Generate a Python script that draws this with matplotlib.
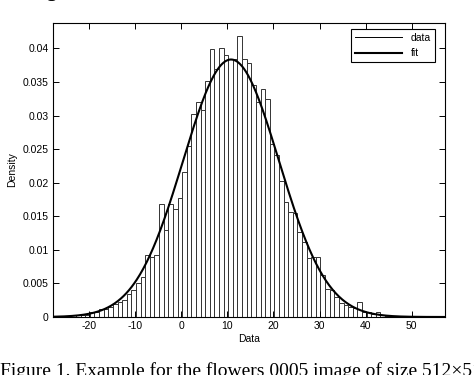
import numpy as np
import matplotlib
matplotlib.use("Agg")
import matplotlib.pyplot as plt
from matplotlib.lines import Line2D

plt.rcParams['axes.unicode_minus'] = False
plt.rcParams['font.family'] = ['Liberation Sans', 'DejaVu Sans']

# histogram: uniform bins of width 1 starting at -25.8
bin_start = -25.8
bin_width = 1.0
density = [0.0001, 0.0001, 0.0003, 0.0003, 0.0003, 0.0003, 0.0008, 0.0007,
           0.0012, 0.0012, 0.0015, 0.0019, 0.0023, 0.0025, 0.0034, 0.0040,
           0.0050, 0.0059, 0.0092, 0.0090, 0.0093, 0.0169, 0.0130, 0.0169,
           0.0161, 0.0178, 0.0216, 0.0254, 0.0303, 0.0320, 0.0309, 0.0352,
           0.0399, 0.0369, 0.0400, 0.0391, 0.0385, 0.0385, 0.0418, 0.0385,
           0.0379, 0.0345, 0.0320, 0.0340, 0.0325, 0.0257, 0.0242, 0.0202,
           0.0172, 0.0156, 0.0155, 0.0126, 0.0111, 0.0088, 0.0090, 0.0089,
           0.0063, 0.0042, 0.0040, 0.0030, 0.0021, 0.0018, 0.0015, 0.0013,
           0.0022, 0.0008, 0.0007, 0.0005, 0.0008, 0.0003, 0.0002, 0.0001]

# normal fit parameters
fit_mu = 10.8
fit_sigma = 10.4

x_ticks = [-20, -10, 0, 10, 20, 30, 40, 50]
y_ticks = [0, 0.005, 0.01, 0.015, 0.02, 0.025, 0.03, 0.035, 0.04]
caption = "Figure 1. Example for the flowers 0005 image of size 512\u00d7512"

fig = plt.figure(figsize=(4.74, 3.75), dpi=100)
ax = fig.add_axes([0.1118, 0.1547, 0.827, 0.784])

lefts = bin_start + bin_width * np.arange(len(density))
ax.bar(lefts, density, width=bin_width, align='edge', color='white',
       edgecolor='#333333', linewidth=0.7)

xs = np.linspace(-27.8, 57.2, 600)
pdf = np.exp(-0.5 * ((xs - fit_mu) / fit_sigma) ** 2) / (fit_sigma * np.sqrt(2 * np.pi))
ax.plot(xs, pdf, color='black', linewidth=1.5)

ax.set_xlim(-27.8, 57.2)
ax.set_ylim(0, 0.0438)
ax.set_xticks(x_ticks)
ax.set_yticks(y_ticks)
ax.set_yticklabels(['%g' % v for v in y_ticks])
ax.tick_params(direction='in', length=4, width=0.7, labelsize=7.5,
               top=True, right=True, pad=3)
for s in ax.spines.values():
    s.set_linewidth(0.8)

ax.set_xlabel('Data', fontsize=7.5, labelpad=2)
ax.set_ylabel('Density', fontsize=7.5, labelpad=4)

handles = [Line2D([], [], color='black', linewidth=0.7),
           Line2D([], [], color='black', linewidth=1.5)]
leg = ax.legend(handles, ['data', 'fit'], loc='upper right',
                bbox_to_anchor=(0.974, 0.98), borderaxespad=0, fontsize=7.5,
                fancybox=False, framealpha=1, handlelength=4.5)
leg.get_frame().set_edgecolor('black')
leg.get_frame().set_linewidth(0.8)

# caption below the chart, clipped by the right and bottom edges as in the source
fig.text(0.0, -0.012, caption, fontsize=14, family='Liberation Serif',
         ha='left', va='bottom')
# descender of a line of text above, cut off by the top edge
fig.text(0.099, 1.009, 'g', fontsize=14, family='Liberation Serif',
         fontweight='bold', ha='left', va='baseline')

fig.savefig('out.png', dpi=100)
